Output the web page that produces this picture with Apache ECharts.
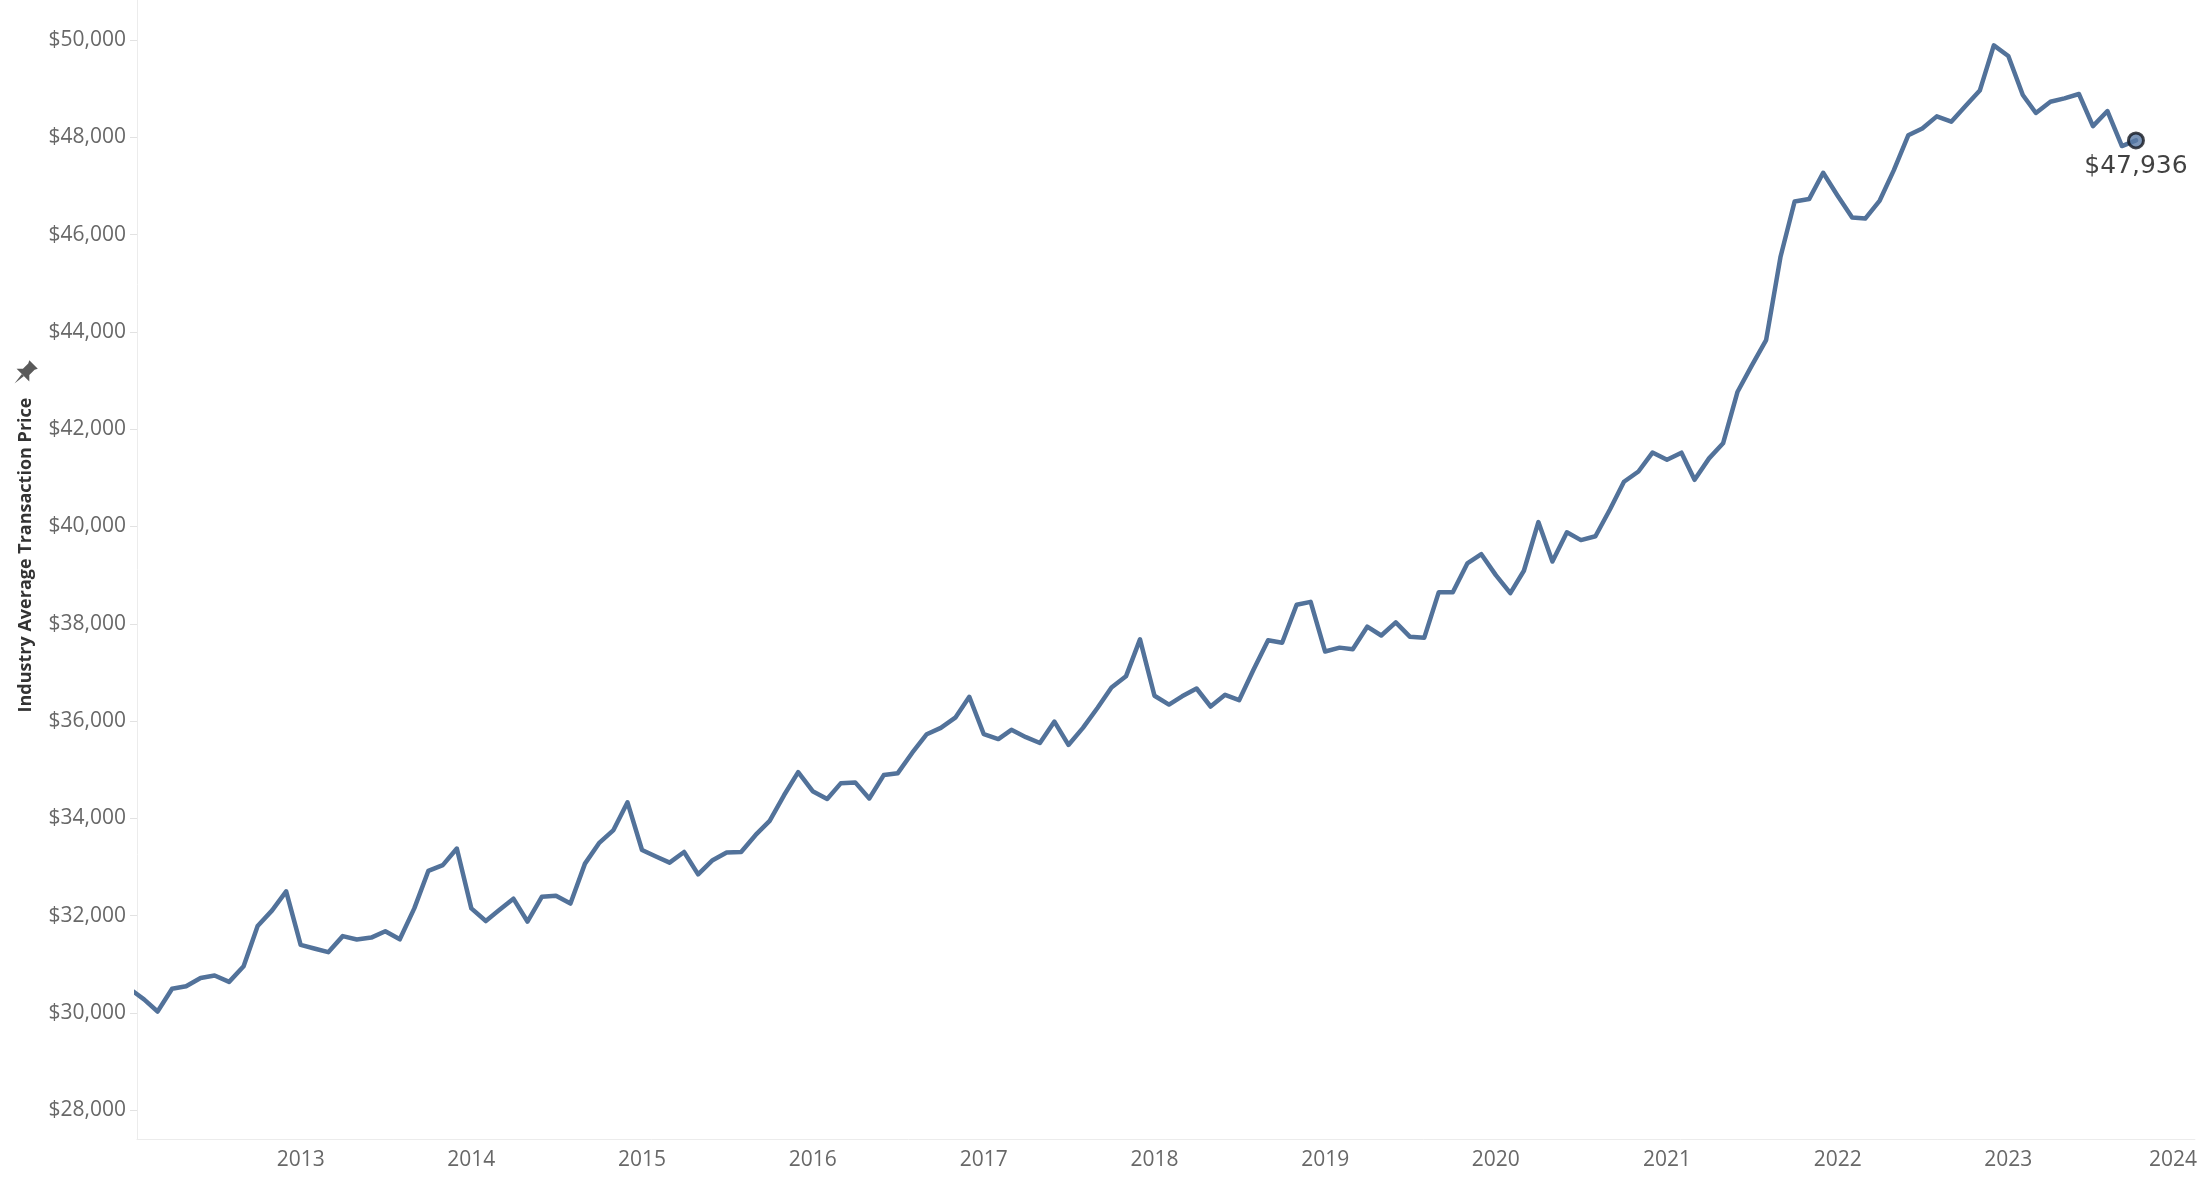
<!DOCTYPE html>
<html>
<head>
<meta charset="utf-8">
<script src="https://cdn.jsdelivr.net/npm/echarts@6/dist/echarts.min.js"></script>
<style>
  html, body { margin: 0; padding: 0; background: #ffffff; }
  #chart { width: 2200px; height: 1195px; }
</style>
</head>
<body>
<div id="chart"></div>
<script>
// ---- Data ----
const years = [2012, 2013, 2014, 2015, 2016, 2017, 2018, 2019, 2020, 2021, 2022, 2023];
const price2012 = [30500, 30280, 30030, 30500, 30550, 30720, 30770, 30640, 30960, 31790, 32110, 32500];
const price2013 = [31400, 31320, 31250, 31580, 31510, 31550, 31680, 31515, 32150, 32920, 33040, 33380];
const price2014 = [32150, 31890, 32110, 32350, 31880, 32390, 32410, 32250, 33070, 33490, 33760, 34330];
const price2015 = [33350, 33210, 33090, 33310, 32850, 33140, 33300, 33310, 33660, 33950, 34480, 34950];
const price2016 = [34560, 34400, 34720, 34740, 34410, 34890, 34930, 35350, 35730, 35860, 36070, 36500];
const price2017 = [35730, 35630, 35820, 35670, 35550, 35990, 35510, 35860, 36270, 36690, 36920, 37680];
const price2018 = [36520, 36340, 36510, 36670, 36300, 36540, 36430, 37060, 37660, 37610, 38390, 38450];
const price2019 = [37430, 37510, 37475, 37940, 37760, 38030, 37735, 37715, 38650, 38650, 39240, 39430];
const price2020 = [39000, 38630, 39090, 40090, 39280, 39880, 39720, 39800, 40350, 40920, 41130, 41520];
const price2021 = [41370, 41517, 40960, 41400, 41710, 42770, 43300, 43830, 45550, 46680, 46730, 47270];
const price2022 = [46800, 46350, 46330, 46700, 47320, 48040, 48180, 48430, 48320, 48640, 48960, 49890];
const price2023 = [49670, 48870, 48500, 48730, 48800, 48890, 48230, 48540, 47820, 47936];
const pricesByYear = [price2012, price2013, price2014, price2015, price2016, price2017,
                      price2018, price2019, price2020, price2021, price2022, price2023];
const yAxisTitle = 'Industry Average Transaction Price';

// ---- Build series data ----
const seriesData = [];
years.forEach(function (yr, yi) {
  pricesByYear[yi].forEach(function (v, mi) {
    const mm = String(mi + 1).padStart(2, '0');
    seriesData.push([yr + '-' + mm + '-01', v]);
  });
});
const lastPoint = seriesData[seriesData.length - 1];

const fmtMoney = function (v) {
  return '$' + Math.round(v).toString().replace(/\B(?=(\d{3})+(?!\d))/g, ',');
};

const chart = echarts.init(document.getElementById('chart'), null, { renderer: 'canvas' });
const LINE = '#52729a';
const LABEL_COLOR = '#686868';
const option = {
  animation: false,
  backgroundColor: '#ffffff',
  grid: { left: 137, right: 5, top: 0, bottom: 56, containLabel: false },
  xAxis: {
    type: 'time',
    min: '2012-01-17',
    max: '2024-02-04',
    minInterval: 365 * 24 * 3600 * 1000,
    maxInterval: 366 * 24 * 3600 * 1000,
    axisLine: { show: true, lineStyle: { color: '#ececec', width: 1 } },
    axisTick: { show: false },
    splitLine: { show: false },
    axisLabel: {
      color: LABEL_COLOR,
      fontFamily: 'Open Sans',
      fontSize: 21,
      margin: 11,
      formatter: function (val) {
        const y = new Date(val).getFullYear();
        return y >= 2024 ? '{edge|' + y + '}' : String(y);
      },
      rich: {
        edge: { color: LABEL_COLOR, fontFamily: 'Open Sans', fontSize: 21, padding: [0, 12, 0, 0] }
      }
    }
  },
  yAxis: {
    type: 'value',
    min: 27410,
    max: 50822,
    splitNumber: 12,
    axisLine: { show: true, lineStyle: { color: '#ececec', width: 1 } },
    axisTick: { show: true, length: 7, lineStyle: { color: '#e2e2e2' } },
    splitLine: { show: false },
    axisLabel: {
      color: LABEL_COLOR,
      fontFamily: 'Open Sans',
      fontSize: 21,
      margin: 11,
      showMinLabel: false,
      showMaxLabel: false,
      formatter: function (v) { return fmtMoney(v); }
    }
  },
  graphic: [
    {
      type: 'text',
      x: 26,
      y: 555,
      rotation: Math.PI / 2,
      style: {
        text: yAxisTitle,
        fill: '#333333',
        font: 'bold 18px "Open Sans"',
        align: 'center',
        verticalAlign: 'middle',
        textAlign: 'center',
        textVerticalAlign: 'middle'
      }
    },
    {
      type: 'group',
      x: 24,
      y: 374,
      rotation: -Math.PI / 4,
      scaleX: 1.5,
      scaleY: 1.5,
      children: [
        {
          type: 'polygon',
          shape: { points: [[-4, -9], [4, -9], [3, -7], [3, -2], [6, 1], [-6, 1], [-3, -2], [-3, -7]] },
          style: { fill: '#5a5a5a' }
        },
        {
          type: 'polygon',
          shape: { points: [[-1, 1], [1, 1], [0, 9]] },
          style: { fill: '#5a5a5a' }
        }
      ]
    }
  ],
  series: [
    {
      type: 'line',
      data: seriesData,
      showSymbol: false,
      clip: true,
      lineStyle: { color: LINE, width: 4.5, join: 'round', cap: 'round' },
      itemStyle: { color: LINE },
      emphasis: { disabled: true },
      z: 2
    },
    {
      type: 'scatter',
      data: [lastPoint],
      symbol: 'circle',
      symbolSize: 15,
      itemStyle: { color: '#5a7aa6', borderColor: '#141820', borderWidth: 3 },
      label: {
        show: true,
        position: 'bottom',
        distance: 5,
        color: '#111111',
        fontFamily: 'DejaVu Sans',
        fontSize: 25,
        formatter: function (p) { return fmtMoney(p.value[1]); }
      },
      emphasis: { disabled: true },
      z: 3
    }
  ]
};
chart.setOption(option);
</script>
</body>
</html>
